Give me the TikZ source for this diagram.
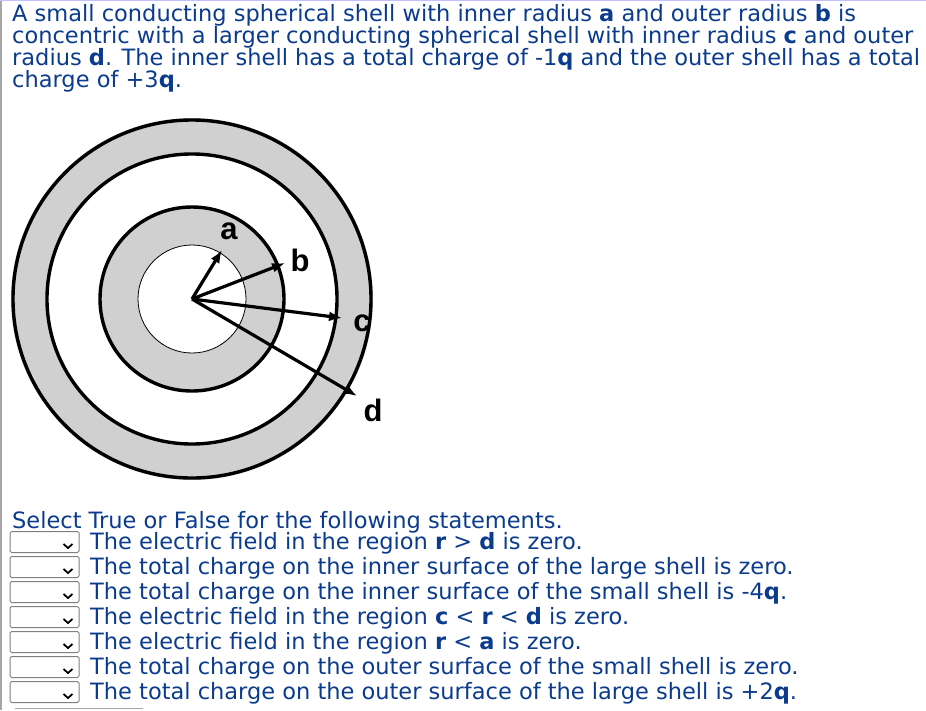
\documentclass[tikz,border=0pt]{standalone}
\usepackage{fontspec}
\usetikzlibrary{arrows.meta}
\setmainfont{DejaVu Sans}
\newfontfamily\lblfont{Liberation Sans}
\definecolor{txt}{HTML}{0B3B8C}
\definecolor{shell}{HTML}{D0D0D0}
\begin{document}
\begin{tikzpicture}[x=1pt,y=-1pt,
  tl/.style={anchor=base west,inner sep=0pt,text=txt,font=\fontsize{22.5}{24}\selectfont},
  lbl/.style={inner sep=0pt,font=\lblfont\bfseries\fontsize{31}{31}\selectfont},
  arr/.style={line width=3.2pt,-{Latex[length=13pt,width=10pt]}},
  ring/.style={line width=3.4pt},
  dd/.style={draw=gray,line width=1pt,rounded corners=1.5pt,minimum width=69pt,minimum height=21pt,inner sep=0pt}]
\useasboundingbox (0,0) rectangle (926,710);
\draw[gray!70,line width=1.2pt] (1,0) -- (1,710);
\draw[blue!25,line width=1pt] (0,0.5) -- (926,0.5);
\draw[gray!70,line width=1pt] (15,708) -- (143,708);
\node[tl] (t1) at (12,21) {A small conducting spherical shell with inner radius \textbf{a} and outer radius \textbf{b} is};
\node[tl] (t2) at (12,43) {concentric with a larger conducting spherical shell with inner radius \textbf{c} and outer};
\node[tl] (t3) at (12,65) {radius \textbf{d}. The inner shell has a total charge of -1\textbf{q} and the outer shell has a total};
\node[tl] (t4) at (12,87) {charge of +3\textbf{q}.};
% shells
\coordinate (O) at (192,299);
\fill[shell] (O) circle (181);
\fill[white] (O) circle (145);
\fill[shell] (O) circle (92);
\fill[white] (O) circle (54);
\draw[ring] (O) circle (179);
\draw[ring] (O) circle (145);
\draw[ring] (O) circle (92);
\draw[line width=0.8pt] (O) circle (54);
\coordinate (A) at (222,250);
\coordinate (B) at (285,263);
\coordinate (C) at (342,318);
\coordinate (D) at (357,396);
\draw[arr] (O) -- (A);
\draw[arr] (O) -- (B);
\draw[arr] (O) -- (C);
\draw[arr] (O) -- (D);
\node[lbl] (la) at (229,231) {a};
\node[lbl] (lb) at (300,260) {b};
\node[lbl] (lc) at (362,323) {c};
\node[lbl] (ld) at (373,410) {d};
% questions
\node[tl] (s) at (12,528) {Select True or False for the following statements.};
\foreach \y/\t [count=\i] in {
 542/{The electric field in the region \textbf{r} > \textbf{d} is zero.},
 567/{The total charge on the inner surface of the large shell is zero.},
 592/{The total charge on the inner surface of the small shell is -4\textbf{q}.},
 617/{The electric field in the region \textbf{c} < \textbf{r} < \textbf{d} is zero.},
 642/{The electric field in the region \textbf{r} < \textbf{a} is zero.},
 667/{The total charge on the outer surface of the small shell is zero.},
 692/{The total charge on the outer surface of the large shell is +2\textbf{q}.}}{
  \node[dd] (box\i) at (44.5,\y) {};
  \draw[line width=1.8pt] ([xshift=-16pt,yshift=-2pt]box\i.east) -- ++(4.5,4) -- ++(4.5,-4);
  \node[tl] (q\i) at (90,\y+7) {\t};
}
\end{tikzpicture}
\end{document}
